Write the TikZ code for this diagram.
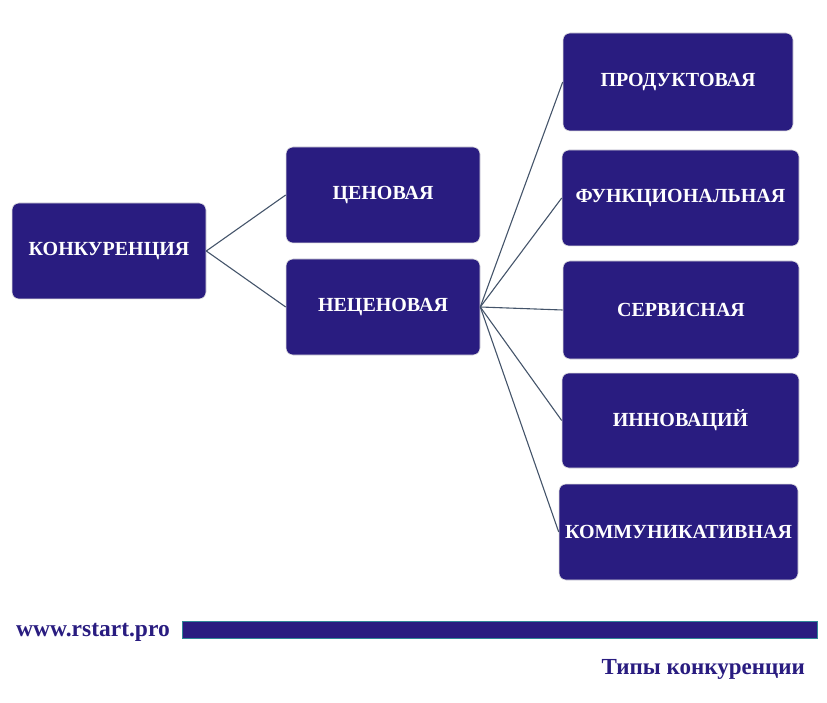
\documentclass[tikz,border=0pt]{standalone}
\usepackage{fontspec}
\setmainfont{Liberation Serif}
\definecolor{indigo}{RGB}{41,28,128}
\definecolor{link}{RGB}{68,84,106}
\begin{document}
\begin{tikzpicture}[x=1pt,y=-1pt,
	typebox/.style={rectangle, rounded corners=7pt, fill=indigo, draw=gray!25, line width=0.6pt,
		text=white, font=\fontsize{20}{22}\selectfont\bfseries, inner sep=0pt},
	link/.style={draw=link, line width=1.1pt}]
	\useasboundingbox (0,0) rectangle (827,703);
	%root
	\node[typebox, minimum width=194pt, minimum height=96pt] (konk) at (109,251){КОНКУРЕНЦИЯ};
	%second level
	\node[typebox, minimum width=194pt, minimum height=96pt] (cen) at (383,195){ЦЕНОВАЯ};
	\node[typebox, minimum width=194pt, minimum height=96pt] (necen) at (383,307){НЕЦЕНОВАЯ};
	%third level
	\node[typebox, minimum width=230pt, minimum height=98pt] (prod) at (678,82){ПРОДУКТОВАЯ};
	\node[typebox, minimum width=237pt, minimum height=96pt] (func) at (680.5,198){ФУНКЦИОНАЛЬНАЯ};
	\node[typebox, minimum width=236pt, minimum height=98pt] (serv) at (681,310){СЕРВИСНАЯ};
	\node[typebox, minimum width=237pt, minimum height=95pt] (innov) at (680.5,420.5){ИННОВАЦИЙ};
	\node[typebox, minimum width=239pt, minimum height=96pt] (komm) at (678.5,532){КОММУНИКАТИВНАЯ};
	
	\draw[link] (konk.east) -- (cen.west);
	\draw[link] (konk.east) -- (necen.west);
	\foreach \t in {prod, func, serv, innov, komm}{
		\draw[link] (necen.east) -- (\t.west);
	}
	
	%footer
	\node[anchor=west, text=indigo, font=\fontsize{23.5}{25}\selectfont\bfseries, inner sep=0pt] (site) at (16,632){www.rstart.pro};
	\node[rectangle, fill=indigo, draw=link!70!cyan, line width=0.6pt, minimum width=635pt, minimum height=17pt, inner sep=0pt] (bar) at (499.5,629.5){};
	\node[anchor=east, text=indigo, font=\fontsize{23}{25}\selectfont\bfseries, inner sep=0pt] (title) at (805,669){Типы конкуренции};
\end{tikzpicture}
\end{document}
